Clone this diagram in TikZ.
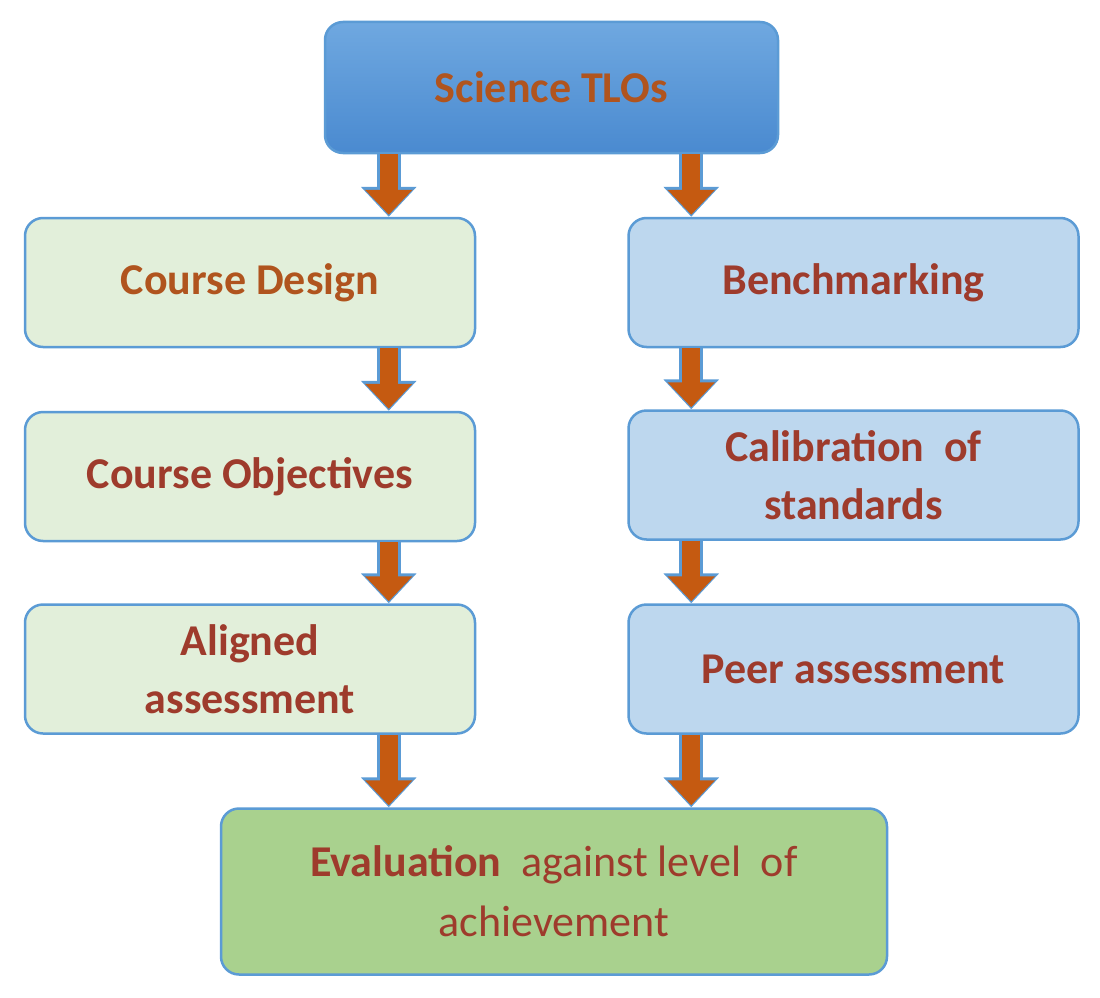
\documentclass[tikz,border=0pt]{standalone}
\usepackage{fontspec}
\setmainfont{Carlito}
\usetikzlibrary{arrows.meta,positioning}
\definecolor{boxblue}{HTML}{5B9BD5}
\definecolor{topfill}{HTML}{4A8AD0}
\definecolor{toplight}{HTML}{6FA8E0}
\definecolor{greenfill}{HTML}{E2EFDA}
\definecolor{bluefill}{HTML}{BDD7EE}
\definecolor{evalfill}{HTML}{A9D18E}
\definecolor{arrowfill}{HTML}{C55A11}
\definecolor{txtred}{HTML}{9E3B2C}
\definecolor{txtorange}{HTML}{B0541E}
\tikzset{
  stepbox/.style={draw=boxblue, line width=2.5pt, rounded corners=18pt,
    minimum width=450pt, minimum height=129pt, align=center,
    font=\fontsize{44}{58}\selectfont\bfseries, text=txtred},
  down/.style={-{Triangle[width=54pt,length=30pt]}, line width=24pt, draw=boxblue,
    postaction={draw=arrowfill, line width=18pt, -{Triangle[width=46pt,length=25pt]}, shorten >=2pt}}
}
\begin{document}
\begin{tikzpicture}[x=1pt,y=-1pt]
	\useasboundingbox (0,0) rectangle (1100,998);

	\node[stepbox, top color=toplight, bottom color=topfill, minimum width=453pt, minimum height=131pt, text=txtorange] (tlo) at (551.5,87.5) {Science TLOs};
	% left column
	\node[stepbox, fill=greenfill, text=txtorange] (cd) at (250,282.5) {Course Design};
	\node[stepbox, fill=greenfill] (co) at (250,476.5) {Course Objectives};
	\node[stepbox, fill=greenfill] (aa) at (250,669) {Aligned\\assessment};
	% right column
	\node[stepbox, fill=bluefill] (bm) at (853.5,282.5) {Benchmarking};
	\node[stepbox, fill=bluefill] (cs) at (853.5,475) {Calibration\ \ of\\standards};
	\node[stepbox, fill=bluefill] (pa) at (853.5,669) {Peer assessment};
	% bottom
	\node[stepbox, fill=evalfill, minimum width=666pt, minimum height=166pt, font=\fontsize{44}{60}\selectfont, text=txtred]
		(ev) at (554,891.5) {\textbf{Evaluation}\ \ against level\ \ of\\achievement};

	\draw[down] ([xshift=65]tlo.south west) -- ([xshift=65]tlo.south west |- cd.north);
	\draw[down] ([xshift=-88]tlo.south east) -- ([xshift=-88]tlo.south east |- bm.north);
	\draw[down] ([xshift=65]tlo.south west |- cd.south) -- ([xshift=65]tlo.south west |- co.north);
	\draw[down] ([xshift=65]tlo.south west |- co.south) -- ([xshift=65]tlo.south west |- aa.north);
	\draw[down] ([xshift=65]tlo.south west |- aa.south) -- ([xshift=65]tlo.south west |- ev.north);
	\draw[down] ([xshift=-88]tlo.south east |- bm.south) -- ([xshift=-88]tlo.south east |- cs.north);
	\draw[down] ([xshift=-88]tlo.south east |- cs.south) -- ([xshift=-88]tlo.south east |- pa.north);
	\draw[down] ([xshift=-88]tlo.south east |- pa.south) -- ([xshift=-88]tlo.south east |- ev.north);
\end{tikzpicture}
\end{document}
